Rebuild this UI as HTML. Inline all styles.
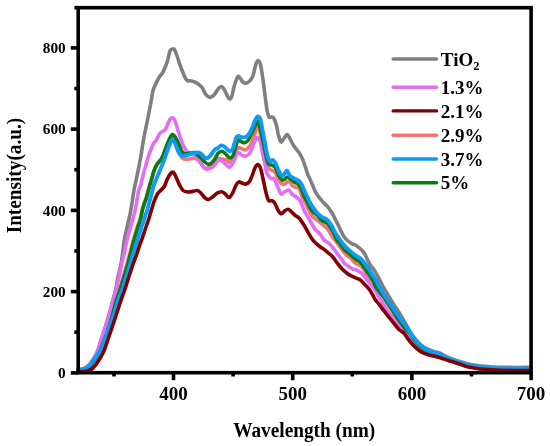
<!DOCTYPE html>
<html><head><meta charset="utf-8"><style>
html,body{margin:0;padding:0;background:#fff;overflow:hidden;}
svg{display:block;}
text{font-family:"Liberation Serif","Times New Roman",serif;font-weight:bold;fill:#000;}
</style></head><body>
<svg width="550" height="446" viewBox="0 0 550 446">
<rect width="550" height="446" fill="#fff"/>
<g fill="none" stroke-width="3.6" stroke-linejoin="round" stroke-linecap="round">
<path d="M78.0 369.6C78.5 369.5 79.9 369.4 81.0 369.1C82.1 368.9 83.6 368.6 84.7 368.1C85.8 367.6 86.7 366.8 87.5 366.2C88.3 365.6 88.8 365.3 89.6 364.3C90.4 363.3 91.6 361.7 92.6 360.2C93.6 358.7 94.6 357.0 95.5 355.3C96.4 353.6 97.0 352.5 98.0 349.9C99.0 347.3 100.1 342.9 101.2 339.5C102.3 336.1 103.2 333.7 104.5 329.5C105.8 325.3 107.7 319.5 109.1 314.5C110.5 309.5 112.0 303.6 113.1 299.5C114.2 295.4 114.8 293.8 115.6 290.0C116.4 286.2 117.1 281.2 118.0 277.0C118.9 272.8 120.0 269.2 120.8 265.0C121.6 260.8 122.2 256.2 122.8 252.0C123.4 247.8 123.6 244.1 124.3 240.0C125.0 235.9 126.1 231.7 127.0 227.5C127.9 223.3 129.0 219.2 129.9 215.0C130.8 210.8 131.5 206.2 132.2 202.0C132.9 197.8 133.2 194.2 134.0 190.0C134.8 185.8 135.8 181.8 136.8 176.8C137.8 171.8 139.1 166.1 140.2 160.0C141.3 153.9 142.6 145.0 143.5 140.0C144.4 135.0 144.7 133.3 145.4 130.0C146.1 126.7 146.8 123.4 147.5 120.0C148.2 116.6 148.8 113.3 149.5 109.8C150.2 106.3 150.9 102.2 151.5 99.1C152.1 96.0 152.2 93.5 152.9 91.0C153.6 88.5 154.6 86.5 155.6 84.2C156.6 82.0 157.8 79.5 159.0 77.5C160.2 75.5 161.7 74.6 163.0 72.1C164.3 69.6 165.8 65.9 167.0 62.4C168.2 58.9 169.0 53.4 169.9 51.2C170.8 49.0 171.8 49.2 172.6 49.0C173.4 48.8 174.0 48.7 174.8 50.1C175.6 51.5 176.8 55.3 177.6 57.5C178.4 59.7 178.8 61.6 179.5 63.5C180.2 65.4 180.8 67.2 181.5 69.0C182.2 70.8 182.8 72.4 183.5 74.0C184.2 75.6 184.8 77.4 185.5 78.5C186.2 79.6 186.7 80.4 187.5 80.8C188.3 81.2 189.1 80.5 190.5 80.8C191.9 81.1 194.4 81.7 196.1 82.6C197.8 83.5 199.5 85.0 200.6 86.0C201.7 87.0 201.9 87.1 202.7 88.4C203.5 89.7 204.2 92.3 205.4 93.8C206.6 95.3 208.4 97.2 209.9 97.4C211.4 97.6 213.0 96.1 214.3 94.7C215.6 93.3 216.7 90.7 217.9 89.3C219.1 87.9 220.3 86.3 221.5 86.6C222.7 86.9 223.9 89.1 225.1 91.1C226.3 93.0 227.6 97.2 228.7 98.3C229.8 99.3 230.5 99.4 231.4 97.4C232.3 95.5 233.1 90.0 234.1 86.6C235.1 83.2 236.6 78.1 237.7 76.8C238.8 75.5 239.5 77.7 240.4 78.6C241.3 79.5 242.0 81.5 243.0 82.2C244.0 82.9 245.4 83.3 246.6 83.0C247.8 82.7 249.1 81.6 250.2 80.4C251.2 79.2 252.2 77.9 252.9 75.9C253.7 74.0 254.1 71.0 254.7 68.7C255.3 66.5 255.9 63.8 256.5 62.4C257.1 61.0 257.7 60.5 258.3 60.6C258.9 60.8 259.5 61.3 260.1 63.3C260.7 65.2 261.3 68.7 261.9 72.3C262.5 75.9 263.1 80.3 263.7 84.8C264.3 89.3 264.9 94.7 265.5 99.2C266.1 103.7 266.7 108.7 267.3 111.7C267.9 114.7 268.4 116.2 269.1 117.1C269.8 118.0 270.9 117.0 271.7 117.1C272.4 117.2 272.8 116.6 273.6 117.9C274.4 119.2 275.6 122.1 276.3 124.7C277.1 127.3 277.4 130.8 278.1 133.7C278.9 136.5 279.9 140.9 280.8 141.8C281.7 142.7 282.5 140.3 283.5 139.1C284.5 137.9 286.0 134.8 287.0 134.6C288.0 134.4 288.8 136.7 289.7 138.2C290.6 139.7 291.3 141.8 292.4 143.6C293.4 145.4 294.8 147.3 296.0 148.9C297.2 150.5 298.4 151.5 299.6 153.4C300.8 155.3 302.1 158.1 303.2 160.6C304.2 163.1 305.1 166.3 305.9 168.7C306.7 171.1 307.2 173.1 308.0 175.0C308.8 176.9 309.8 178.6 310.6 180.4C311.4 182.2 312.1 184.0 312.9 185.8C313.6 187.6 314.3 189.6 315.1 191.2C315.9 192.8 316.8 194.1 317.8 195.6C318.9 197.1 320.3 198.8 321.4 200.1C322.5 201.4 323.6 202.6 324.6 203.7C325.6 204.8 326.2 204.9 327.4 206.4C328.6 207.9 330.5 210.5 331.9 212.7C333.2 214.9 334.3 217.4 335.5 219.8C336.7 222.2 337.8 224.3 339.1 227.0C340.5 229.7 342.3 233.8 343.6 236.0C344.9 238.2 345.4 238.7 346.9 240.0C348.3 241.3 350.9 243.2 352.3 244.0C353.7 244.8 353.6 243.9 355.0 244.7C356.4 245.5 358.8 247.3 360.4 248.8C362.0 250.3 363.3 251.8 364.4 253.5C365.5 255.2 366.2 257.1 367.1 258.9C368.0 260.7 368.7 262.4 369.8 264.2C370.9 266.0 372.5 267.6 373.9 269.6C375.2 271.6 376.9 274.7 377.9 276.4C378.9 278.1 378.7 278.1 379.7 280.0C380.7 281.9 382.3 285.3 383.8 287.9C385.3 290.5 386.9 293.1 388.5 295.7C390.1 298.3 391.6 301.0 393.2 303.6C394.8 306.2 396.9 309.2 398.3 311.4C399.7 313.5 399.6 313.2 401.5 316.5C403.4 319.8 407.6 327.5 410.0 331.4C412.4 335.3 414.0 337.6 416.0 340.0C418.0 342.4 419.8 344.0 422.0 345.6C424.2 347.2 426.8 348.6 429.0 349.7C431.2 350.8 433.6 351.3 435.4 351.9C437.2 352.5 437.9 352.3 440.0 353.2C442.1 354.1 445.3 356.2 448.2 357.5C451.1 358.8 454.3 359.7 457.3 360.7C460.3 361.7 463.4 362.6 466.4 363.4C469.4 364.2 472.6 364.8 475.5 365.3C478.4 365.8 481.2 366.1 484.0 366.4C486.8 366.7 487.7 366.8 492.0 367.0C496.3 367.2 503.7 367.3 510.0 367.4C516.3 367.5 526.5 367.4 529.8 367.4" stroke="#7f7f7f"/>
<path d="M78.0 370.6C78.7 370.5 80.7 370.4 82.0 370.1C83.3 369.8 84.8 369.6 86.0 369.0C87.2 368.4 88.3 367.5 89.3 366.6C90.3 365.7 90.9 365.0 91.8 363.8C92.7 362.6 93.8 360.8 94.7 359.3C95.7 357.8 96.6 356.4 97.5 354.8C98.4 353.2 99.3 351.7 100.2 349.8C101.1 347.9 102.1 345.1 102.7 343.5C103.3 341.9 103.0 342.2 103.8 340.0C104.6 337.8 106.0 334.2 107.3 330.0C108.6 325.8 110.2 320.0 111.7 315.0C113.2 310.0 115.0 304.2 116.2 300.0C117.5 295.8 118.0 293.8 119.2 290.0C120.4 286.2 122.0 281.2 123.2 277.0C124.5 272.8 125.5 269.2 126.7 265.0C127.9 260.8 129.1 256.2 130.2 252.0C131.3 247.8 132.1 244.2 133.3 240.0C134.5 235.8 136.1 230.3 137.2 227.0C138.3 223.7 139.0 222.8 139.8 220.0C140.6 217.2 141.3 212.8 142.0 210.0C142.7 207.2 143.5 204.9 144.1 203.0C144.7 201.1 145.2 200.5 145.8 198.5C146.4 196.5 147.2 193.2 147.8 191.0C148.4 188.8 148.7 187.3 149.5 185.0C150.3 182.7 151.6 179.7 152.5 177.0C153.4 174.3 154.2 171.2 155.0 169.0C155.8 166.8 156.2 165.0 157.0 163.5C157.8 162.0 159.0 161.2 160.0 160.0C161.0 158.8 162.4 157.5 163.2 156.0C164.0 154.5 164.1 153.3 165.0 151.0C165.9 148.7 167.7 144.1 168.6 142.0C169.5 139.9 169.8 139.4 170.5 138.5C171.2 137.6 171.8 136.7 172.5 136.8C173.2 136.9 174.1 137.5 174.8 139.0C175.6 140.5 176.2 143.7 177.0 146.0C177.8 148.3 178.5 150.9 179.5 153.0C180.5 155.1 181.6 157.4 182.8 158.4C184.0 159.4 185.5 159.1 186.8 159.2C188.1 159.3 189.3 158.9 190.7 158.8C192.1 158.7 194.1 158.1 195.4 158.4C196.7 158.7 197.4 159.4 198.5 160.4C199.6 161.4 200.6 163.0 201.7 164.3C202.8 165.6 203.7 167.6 204.8 168.2C205.9 168.8 206.8 168.8 208.1 167.8C209.4 166.8 211.0 163.9 212.6 162.4C214.2 160.9 216.4 159.4 217.9 158.8C219.4 158.2 220.2 158.7 221.5 158.8C222.8 159.0 224.7 159.1 226.0 159.7C227.3 160.3 228.2 162.8 229.6 162.4C230.9 162.0 232.8 159.4 234.1 157.0C235.4 154.6 236.3 149.3 237.7 148.0C239.0 146.7 240.9 148.7 242.2 149.0C243.5 149.3 244.4 150.4 245.7 149.8C247.0 149.2 248.8 147.5 250.2 145.4C251.5 143.3 252.6 140.5 253.8 137.3C255.0 134.2 256.3 127.4 257.4 126.5C258.4 125.6 259.2 128.6 260.1 131.9C261.0 135.2 261.9 141.8 262.8 146.3C263.7 150.8 264.4 155.1 265.5 158.8C266.6 162.5 267.9 166.6 269.1 168.5C270.3 170.4 271.6 169.9 272.6 170.5C273.6 171.1 274.5 171.2 275.3 172.3C276.1 173.4 276.3 175.2 277.2 177.0C278.1 178.8 279.6 181.8 280.8 183.0C282.0 184.2 283.1 184.8 284.3 184.5C285.5 184.2 286.9 181.9 287.9 181.5C288.8 181.1 289.2 181.5 290.0 182.2C290.8 182.9 291.8 185.0 292.7 185.8C293.6 186.6 294.5 186.8 295.4 187.1C296.3 187.4 297.4 187.3 298.1 187.8C298.9 188.3 299.3 189.0 299.9 190.3C300.5 191.6 300.9 193.8 301.7 195.6C302.4 197.4 303.5 199.2 304.4 201.0C305.3 202.8 306.2 204.5 307.1 206.4C308.0 208.3 308.8 210.5 309.7 212.2C310.6 213.9 311.5 215.4 312.5 216.5C313.5 217.6 314.3 217.8 315.7 218.9C317.1 220.1 319.2 221.8 321.1 223.4C323.1 225.1 325.6 226.7 327.4 228.8C329.2 230.9 330.7 234.1 331.9 236.0C333.1 237.9 333.6 238.4 334.8 240.0C336.0 241.6 337.5 243.6 338.8 245.4C340.1 247.2 341.5 249.1 342.9 250.8C344.2 252.5 345.6 254.3 346.9 255.5C348.2 256.7 349.5 257.0 350.9 258.2C352.2 259.4 353.4 261.7 355.0 262.9C356.6 264.1 358.8 264.4 360.4 265.6C362.0 266.8 363.1 268.3 364.4 270.3C365.7 272.3 366.6 275.3 368.0 277.5C369.4 279.7 371.2 281.5 372.5 283.5C373.8 285.5 374.2 287.5 375.8 289.5C377.4 291.5 380.4 293.3 382.3 295.7C384.2 298.1 385.8 301.0 387.5 303.6C389.2 306.2 391.2 309.2 392.7 311.4C394.2 313.6 395.1 315.1 396.3 317.0C397.5 318.9 398.8 320.7 400.1 322.5C401.4 324.3 402.4 326.1 404.0 328.0C405.6 329.9 408.0 331.7 410.0 334.1C412.0 336.6 414.0 340.3 416.0 342.7C418.0 345.1 419.8 346.7 422.0 348.3C424.2 349.9 426.8 351.3 429.0 352.4C431.2 353.4 433.6 354.0 435.4 354.6C437.2 355.2 437.9 355.0 440.0 355.9C442.1 356.8 445.3 358.9 448.2 360.2C451.1 361.4 454.3 362.4 457.3 363.4C460.3 364.4 463.4 365.3 466.4 366.1C469.4 366.9 472.6 367.5 475.5 368.0C478.4 368.5 481.2 368.8 484.0 369.1C486.8 369.4 487.7 369.5 492.0 369.7C496.3 369.9 503.7 370.0 510.0 370.1C516.3 370.2 526.5 370.1 529.8 370.1" stroke="#f67373"/>
<path d="M78.0 369.9C78.5 369.8 79.9 369.6 81.0 369.4C82.1 369.1 83.6 368.9 84.7 368.4C85.8 367.9 86.7 367.1 87.5 366.5C88.3 365.9 88.8 365.6 89.6 364.6C90.4 363.6 91.6 362.0 92.6 360.5C93.6 359.0 94.6 357.3 95.5 355.6C96.4 353.9 97.0 352.8 98.0 350.2C99.0 347.6 100.1 343.4 101.2 340.0C102.3 336.6 103.2 334.2 104.5 330.0C105.8 325.8 107.9 320.0 109.3 315.0C110.7 310.0 111.7 304.2 112.8 300.0C113.9 295.8 114.9 293.8 115.9 290.0C116.9 286.2 118.1 281.2 119.0 277.0C119.9 272.8 120.6 269.2 121.5 265.0C122.4 260.8 123.6 256.2 124.5 252.0C125.4 247.8 126.0 244.2 127.0 240.0C128.0 235.8 129.3 231.2 130.5 227.0C131.7 222.8 133.0 219.0 134.0 215.0C135.0 211.0 135.7 207.2 136.5 203.0C137.3 198.8 138.1 193.0 138.8 190.0C139.5 187.0 140.2 187.2 140.8 185.0C141.5 182.8 141.5 181.3 142.7 176.8C143.9 172.3 146.5 162.6 147.8 158.2C149.1 153.8 149.7 152.7 150.6 150.3C151.5 147.9 152.5 145.3 153.4 143.6C154.3 141.9 155.2 142.0 156.2 140.3C157.2 138.6 158.5 135.0 159.6 133.5C160.7 132.0 161.9 132.1 162.9 131.3C163.9 130.6 164.8 130.3 165.7 129.0C166.5 127.7 167.2 125.1 168.0 123.4C168.8 121.7 169.4 119.9 170.2 119.0C170.9 118.1 171.8 117.6 172.5 117.8C173.2 118.0 174.0 118.6 174.7 120.1C175.4 121.6 176.1 124.2 176.9 126.8C177.7 129.4 178.8 133.0 179.7 135.8C180.6 138.6 181.6 141.5 182.5 143.6C183.4 145.7 184.2 147.2 185.0 148.6C185.8 150.0 186.4 151.0 187.4 151.8C188.4 152.6 189.7 152.7 191.0 153.4C192.3 154.1 194.2 155.1 195.4 156.1C196.7 157.1 197.4 158.2 198.5 159.6C199.6 161.0 200.6 163.1 201.7 164.6C202.8 166.1 203.8 167.7 204.8 168.4C205.9 169.1 206.8 169.2 208.0 169.0C209.2 168.8 210.7 168.2 211.9 167.4C213.1 166.7 214.0 165.6 215.0 164.5C216.0 163.4 216.8 161.2 217.9 160.6C219.0 159.9 220.3 160.1 221.5 160.6C222.7 161.1 223.8 162.5 225.1 163.6C226.4 164.7 228.1 167.7 229.6 167.2C231.1 166.7 232.8 163.0 234.1 160.6C235.4 158.2 236.2 153.5 237.4 152.5C238.6 151.5 239.9 154.2 241.3 154.8C242.7 155.4 244.2 156.5 245.7 156.1C247.2 155.7 248.8 154.6 250.2 152.5C251.5 150.4 252.6 146.1 253.8 143.6C255.0 141.1 256.3 137.8 257.4 137.3C258.4 136.9 259.4 138.8 260.1 140.9C260.9 143.0 261.1 146.2 261.9 149.8C262.6 153.4 263.7 158.4 264.6 162.4C265.5 166.4 266.2 171.4 267.3 174.0C268.4 176.6 269.8 177.4 270.9 178.2C272.0 179.0 273.0 177.7 274.1 179.0C275.2 180.3 276.2 183.4 277.4 185.9C278.5 188.4 279.8 192.9 281.0 193.9C282.2 194.9 283.4 192.5 284.6 191.8C285.8 191.2 287.3 190.1 288.2 190.0C289.1 189.9 289.2 190.4 290.0 191.2C290.8 192.0 291.6 193.7 292.7 194.7C293.8 195.7 295.2 196.2 296.3 197.0C297.4 197.8 298.2 198.4 299.0 199.2C299.8 200.0 300.2 200.7 300.8 201.9C301.4 203.1 301.9 204.8 302.6 206.4C303.3 208.1 303.7 209.6 304.8 211.8C305.9 214.0 307.8 217.0 309.5 219.8C311.2 222.6 313.0 226.4 314.8 228.8C316.6 231.2 318.7 232.3 320.2 234.2C321.7 236.1 322.7 238.6 324.0 240.0C325.3 241.4 326.8 241.6 328.1 242.7C329.5 243.8 330.8 245.1 332.1 246.7C333.4 248.3 334.8 250.3 336.1 252.1C337.5 253.9 338.9 255.7 340.2 257.5C341.5 259.3 342.8 261.4 344.2 262.9C345.6 264.3 346.9 265.2 348.3 266.2C349.7 267.2 351.2 268.3 352.3 268.9C353.4 269.5 353.6 269.0 355.0 269.6C356.4 270.2 358.8 271.2 360.4 272.3C362.0 273.4 363.0 274.8 364.4 276.4C365.8 278.0 367.2 280.2 368.5 281.8C369.8 283.4 371.0 284.7 372.0 286.0C373.0 287.3 373.7 288.0 374.7 289.5C375.7 291.0 376.9 293.3 377.9 295.0C378.9 296.7 379.9 298.5 380.8 299.9C381.7 301.3 381.9 301.7 383.0 303.5C384.1 305.3 385.8 308.2 387.5 310.7C389.2 313.2 391.5 316.0 393.5 318.6C395.5 321.2 398.0 324.6 399.5 326.4C401.0 328.2 400.8 327.3 402.5 329.5C404.2 331.7 407.8 336.7 410.0 339.5C412.2 342.3 414.0 344.3 416.0 346.1C418.0 347.9 419.8 349.2 422.0 350.4C424.2 351.6 426.8 352.6 429.0 353.3C431.2 354.0 433.6 354.4 435.4 354.8C437.2 355.2 437.9 355.4 440.0 356.0C442.1 356.6 445.3 357.8 448.2 358.7C451.1 359.6 454.3 360.4 457.3 361.4C460.3 362.4 463.4 363.8 466.4 364.7C469.4 365.6 472.6 366.0 475.5 366.5C478.4 367.0 481.2 367.2 484.0 367.5C486.8 367.8 487.7 367.8 492.0 368.0C496.3 368.2 503.7 368.5 510.0 368.6C516.3 368.7 526.5 368.8 529.8 368.8" stroke="#e56cf7"/>
<path d="M78.0 370.6C78.7 370.5 80.7 370.4 82.0 370.2C83.3 370.0 84.8 369.8 86.0 369.2C87.2 368.6 88.5 367.7 89.5 366.8C90.5 365.9 91.1 365.2 92.0 364.0C92.9 362.8 94.0 361.0 95.0 359.5C96.0 358.0 96.9 356.6 97.8 355.0C98.7 353.4 99.6 351.9 100.5 350.0C101.4 348.1 102.3 345.2 103.0 343.5C103.7 341.8 103.7 342.2 104.5 340.0C105.3 337.8 106.7 334.2 108.0 330.0C109.3 325.8 111.1 320.0 112.5 315.0C113.9 310.0 115.2 304.2 116.5 300.0C117.8 295.8 118.8 293.8 120.0 290.0C121.2 286.2 122.8 281.2 124.0 277.0C125.2 272.8 126.3 269.2 127.5 265.0C128.7 260.8 129.9 256.2 131.0 252.0C132.1 247.8 132.9 244.2 134.1 240.0C135.3 235.8 137.0 230.3 138.0 227.0C139.0 223.7 139.6 222.8 140.3 220.0C141.1 217.2 141.8 212.8 142.5 210.0C143.2 207.2 144.0 204.9 144.6 203.0C145.2 201.1 145.7 200.5 146.3 198.5C146.9 196.5 147.7 193.2 148.3 191.0C148.9 188.8 149.4 187.2 150.0 185.0C150.6 182.8 151.4 179.6 152.0 177.5C152.6 175.4 152.8 174.1 153.3 172.4C153.9 170.7 154.7 168.8 155.3 167.5C155.9 166.2 156.2 165.7 156.9 164.7C157.6 163.7 158.8 162.4 159.5 161.5C160.2 160.6 160.8 160.4 161.4 159.3C162.0 158.2 162.6 156.6 163.2 155.0C163.8 153.4 164.1 152.2 165.0 149.8C165.9 147.5 167.7 143.0 168.6 140.9C169.5 138.8 169.9 138.1 170.5 137.0C171.1 135.9 171.5 134.7 172.2 134.6C172.9 134.5 173.9 135.3 174.8 136.4C175.7 137.5 176.6 139.3 177.4 141.0C178.2 142.7 178.9 144.5 179.7 146.3C180.5 148.1 181.2 150.6 182.1 151.8C183.0 153.0 184.0 153.4 185.2 153.7C186.4 153.9 187.5 153.5 189.1 153.3C190.7 153.1 193.2 152.2 194.6 152.5C196.0 152.8 196.6 154.4 197.7 155.3C198.8 156.2 199.7 156.9 200.9 158.0C202.1 159.1 203.5 160.9 204.8 162.0C206.1 163.1 207.5 164.2 208.7 164.3C209.9 164.4 210.8 163.6 211.9 162.7C213.0 161.8 214.0 160.4 215.0 158.8C216.0 157.2 216.8 154.7 217.9 153.4C219.0 152.2 220.3 151.3 221.5 151.3C222.7 151.3 223.8 152.3 225.1 153.4C226.4 154.5 228.2 157.6 229.6 157.9C230.9 158.2 231.8 158.0 233.2 155.2C234.5 152.4 236.3 143.1 237.7 140.9C239.0 138.7 240.1 141.5 241.3 141.8C242.5 142.1 243.6 143.0 244.8 142.7C246.0 142.4 247.2 141.7 248.4 140.0C249.6 138.3 250.8 135.4 252.0 132.8C253.2 130.2 254.6 126.7 255.6 124.7C256.6 122.8 257.1 120.5 257.8 121.1C258.6 121.7 259.3 125.0 260.1 128.3C260.9 131.6 261.9 136.7 262.8 140.9C263.7 145.1 264.6 149.6 265.5 153.4C266.4 157.2 267.2 161.6 268.2 163.5C269.2 165.4 270.5 164.3 271.7 165.0C272.9 165.7 274.1 165.7 275.3 167.5C276.5 169.3 277.8 173.9 279.0 176.0C280.2 178.1 281.3 180.1 282.6 180.3C283.9 180.5 285.8 177.6 287.0 177.3C288.2 177.0 288.8 177.8 290.0 178.6C291.2 179.4 293.1 181.3 294.5 182.2C295.9 183.1 297.1 183.1 298.1 184.0C299.2 184.9 299.9 185.8 300.8 187.6C301.7 189.4 302.6 192.6 303.5 194.7C304.4 196.8 305.3 198.3 306.2 200.1C307.1 201.9 307.9 203.6 308.9 205.5C309.9 207.4 311.0 209.7 312.4 211.3C313.8 213.0 315.9 213.8 317.5 215.4C319.1 217.0 320.4 219.4 322.0 220.7C323.6 222.0 325.8 221.9 327.4 223.4C329.0 224.9 330.5 227.4 331.9 229.7C333.2 231.9 334.7 235.2 335.5 236.9C336.3 238.6 336.0 238.8 336.8 240.0C337.6 241.2 339.0 242.4 340.2 244.0C341.4 245.6 342.8 247.9 344.2 249.4C345.6 250.9 346.5 251.2 348.3 252.8C350.1 254.4 353.0 257.2 355.0 258.8C357.0 260.4 358.8 260.7 360.4 262.2C362.0 263.7 363.0 265.7 364.4 267.6C365.8 269.5 367.0 271.5 368.5 273.7C370.0 275.9 371.9 278.6 373.2 281.0C374.5 283.4 374.7 285.4 376.3 287.9C377.9 290.3 380.9 293.1 382.8 295.7C384.8 298.3 386.3 301.0 388.0 303.6C389.7 306.2 391.7 309.2 393.2 311.4C394.7 313.6 395.6 315.1 396.8 317.0C398.0 318.9 399.3 320.7 400.6 322.5C401.9 324.3 402.9 325.9 404.5 327.8C406.1 329.7 408.1 331.3 410.0 333.7C411.9 336.1 414.0 339.9 416.0 342.3C418.0 344.7 419.8 346.3 422.0 347.9C424.2 349.5 426.8 350.9 429.0 352.0C431.2 353.1 433.6 353.6 435.4 354.2C437.2 354.8 437.9 354.6 440.0 355.5C442.1 356.4 445.3 358.6 448.2 359.8C451.1 361.1 454.3 362.0 457.3 363.0C460.3 364.0 463.4 364.9 466.4 365.7C469.4 366.5 472.6 367.1 475.5 367.6C478.4 368.1 481.2 368.4 484.0 368.7C486.8 369.0 487.7 369.1 492.0 369.3C496.3 369.5 503.7 369.6 510.0 369.7C516.3 369.8 526.5 369.7 529.8 369.7" stroke="#0a7c14"/>
<path d="M78.0 370.2C78.5 370.1 79.9 370.0 81.0 369.8C82.1 369.6 83.6 369.4 84.7 368.9C85.8 368.4 86.9 367.7 87.8 367.0C88.7 366.3 89.3 365.9 90.2 364.8C91.1 363.7 92.3 362.0 93.4 360.5C94.5 359.0 95.7 357.3 96.8 355.6C97.9 353.9 99.3 351.7 100.3 350.2C101.3 348.7 101.9 348.3 102.6 346.6C103.3 344.9 103.7 342.8 104.6 340.0C105.5 337.2 106.7 334.2 108.2 330.0C109.7 325.8 112.0 320.0 113.7 315.0C115.4 310.0 116.9 304.2 118.3 300.0C119.7 295.8 121.0 293.8 122.3 290.0C123.6 286.2 125.0 281.2 126.3 277.0C127.6 272.8 128.8 269.2 130.0 265.0C131.2 260.8 132.6 256.2 133.8 252.0C135.0 247.8 136.1 244.2 137.4 240.0C138.7 235.8 140.5 230.1 141.5 227.0C142.5 223.9 142.7 223.8 143.4 221.7C144.1 219.6 145.1 216.1 145.6 214.5C146.1 212.9 146.2 213.6 146.7 212.0C147.2 210.4 147.9 207.2 148.5 205.0C149.1 202.8 149.7 200.8 150.3 198.5C150.9 196.2 151.7 193.2 152.3 191.0C152.9 188.8 152.8 188.0 153.9 185.0C155.0 182.0 157.1 177.0 158.7 173.2C160.2 169.4 161.7 166.3 163.2 162.4C164.7 158.5 166.5 153.0 167.7 149.8C168.9 146.6 169.6 144.6 170.3 143.0C171.1 141.4 171.4 140.1 172.2 140.0C172.9 139.9 173.9 141.1 174.8 142.7C175.7 144.3 176.6 147.5 177.4 149.4C178.2 151.3 178.9 153.0 179.7 154.1C180.5 155.2 181.2 155.8 182.1 156.1C183.0 156.4 184.0 156.0 185.2 155.7C186.4 155.4 187.8 154.9 189.1 154.5C190.4 154.1 191.6 153.6 193.0 153.3C194.4 153.0 196.4 152.4 197.7 152.5C199.0 152.6 199.8 153.0 200.9 153.7C202.0 154.4 203.1 156.1 204.0 156.9C204.9 157.7 205.5 158.5 206.4 158.4C207.3 158.3 208.5 157.5 209.5 156.5C210.5 155.5 211.7 153.7 212.6 152.5C213.5 151.3 214.1 150.2 215.0 149.4C215.9 148.7 216.8 148.7 217.9 148.0C219.0 147.3 220.3 145.5 221.5 145.4C222.7 145.3 223.9 146.3 225.1 147.2C226.3 148.1 227.5 150.3 228.7 150.7C229.9 151.1 231.1 151.9 232.3 149.8C233.5 147.7 234.9 140.5 235.9 138.2C236.9 135.9 237.7 136.1 238.6 135.9C239.5 135.8 240.3 137.1 241.3 137.3C242.3 137.5 243.6 137.8 244.8 137.3C246.0 136.9 247.2 136.1 248.4 134.6C249.6 133.1 250.9 130.6 252.0 128.3C253.1 126.1 253.8 123.0 254.7 121.1C255.6 119.2 256.5 117.1 257.4 116.7C258.3 116.3 259.4 116.9 260.1 118.5C260.9 120.1 261.1 122.8 261.9 126.5C262.6 130.2 263.7 136.1 264.6 140.9C265.5 145.7 266.4 151.8 267.3 155.2C268.2 158.6 269.1 160.7 270.0 161.5C270.9 162.3 271.8 159.8 272.7 160.0C273.6 160.2 274.5 161.4 275.4 163.0C276.3 164.6 277.1 167.5 278.1 169.6C279.2 171.7 280.7 175.1 281.7 175.8C282.7 176.6 283.4 175.0 284.3 174.1C285.2 173.2 286.1 170.2 287.0 170.5C287.9 170.8 288.6 174.5 290.0 175.9C291.4 177.3 293.8 178.0 295.4 179.0C297.0 180.0 298.7 180.4 299.9 181.7C301.1 183.0 301.7 184.8 302.6 186.7C303.5 188.6 304.4 191.1 305.3 193.0C306.2 194.9 307.1 196.5 308.0 198.3C308.9 200.1 309.6 201.9 310.6 203.7C311.6 205.5 313.0 207.4 314.2 209.1C315.4 210.8 316.5 212.2 317.8 213.6C319.1 214.9 320.4 216.2 322.0 217.2C323.6 218.2 325.8 218.3 327.4 219.8C329.0 221.3 330.5 223.8 331.9 226.1C333.2 228.3 334.1 231.0 335.5 233.3C336.9 235.6 338.8 238.0 340.2 240.0C341.6 242.0 342.8 243.8 344.2 245.4C345.6 247.0 346.5 247.8 348.3 249.4C350.1 251.0 353.0 253.5 355.0 255.0C357.0 256.5 358.8 256.9 360.4 258.2C362.0 259.5 363.0 261.2 364.4 262.9C365.8 264.6 367.1 266.3 368.5 268.3C369.9 270.3 371.2 272.9 372.5 275.0C373.8 277.1 375.1 278.7 376.3 280.8C377.5 282.9 378.5 285.4 379.9 287.9C381.3 290.4 382.9 293.1 384.6 295.7C386.3 298.3 388.2 301.0 390.0 303.6C391.8 306.2 393.8 309.4 395.2 311.4C396.6 313.4 397.2 314.0 398.3 315.5C399.4 317.0 400.3 318.7 401.6 320.5C402.9 322.3 404.5 323.8 406.1 326.1C407.7 328.4 409.4 331.7 411.1 334.2C412.8 336.7 414.4 339.2 416.2 341.3C418.0 343.4 420.0 345.2 422.2 346.8C424.4 348.4 427.1 349.9 429.3 350.9C431.5 351.9 433.6 352.3 435.4 352.9C437.2 353.4 437.9 353.3 440.0 354.2C442.1 355.1 445.3 357.2 448.2 358.5C451.1 359.8 454.3 360.7 457.3 361.7C460.3 362.7 463.4 363.6 466.4 364.4C469.4 365.2 472.6 365.8 475.5 366.3C478.4 366.8 481.2 367.1 484.0 367.4C486.8 367.7 487.7 367.8 492.0 368.0C496.3 368.2 503.7 368.3 510.0 368.4C516.3 368.5 526.5 368.4 529.8 368.4" stroke="#0f9af5" stroke-width="3.9"/>
<path d="M78.0 371.6C78.7 371.6 80.7 371.7 82.0 371.6C83.3 371.6 84.8 371.5 86.0 371.3C87.2 371.1 88.1 370.9 89.0 370.5C89.9 370.1 90.8 369.7 91.5 369.2C92.2 368.7 92.8 368.3 93.5 367.5C94.2 366.7 95.2 365.6 96.0 364.6C96.8 363.6 97.2 362.9 98.1 361.4C99.0 359.9 100.5 357.6 101.6 355.6C102.7 353.6 103.5 352.2 104.5 349.6C105.5 347.0 106.7 343.3 107.8 340.0C108.9 336.7 109.8 334.2 111.2 330.0C112.6 325.8 114.6 320.0 116.2 315.0C117.8 310.0 119.7 304.2 121.1 300.0C122.5 295.8 123.4 293.8 124.7 290.0C126.0 286.2 127.5 281.2 128.8 277.0C130.2 272.8 131.4 269.2 132.8 265.0C134.2 260.8 136.4 255.2 137.5 252.0C138.6 248.8 138.7 248.0 139.4 246.0C140.1 244.0 140.8 242.1 141.6 240.0C142.3 237.9 143.2 235.6 143.9 233.4C144.6 231.2 145.3 228.9 146.0 227.0C146.7 225.1 147.3 223.4 147.9 221.7C148.5 219.9 149.0 218.2 149.5 216.5C150.0 214.8 150.4 213.4 151.0 211.5C151.6 209.6 152.3 207.0 153.0 204.8C153.7 202.6 154.5 200.4 155.3 198.5C156.1 196.6 156.9 194.6 158.0 193.1C159.1 191.6 160.5 190.7 161.6 189.5C162.7 188.3 163.7 187.6 164.6 186.0C165.5 184.4 166.0 181.8 167.0 179.7C168.0 177.6 169.5 174.8 170.6 173.5C171.7 172.2 172.4 171.6 173.3 172.2C174.2 172.8 174.9 174.8 176.0 177.0C177.1 179.2 178.4 182.8 179.6 185.1C180.8 187.3 181.8 189.4 183.2 190.5C184.5 191.6 186.1 191.8 187.7 191.9C189.3 192.1 191.4 191.6 193.0 191.4C194.6 191.2 196.2 190.2 197.5 190.5C198.8 190.8 199.9 192.0 201.1 193.2C202.3 194.4 203.5 196.6 204.7 197.7C205.9 198.8 207.0 199.7 208.3 199.5C209.7 199.3 211.3 197.9 212.8 196.8C214.3 195.8 215.8 194.0 217.3 193.2C218.8 192.4 220.4 191.7 221.7 191.8C223.0 191.9 224.1 193.1 225.3 194.0C226.5 194.9 227.8 197.7 229.0 197.5C230.2 197.3 231.4 195.1 232.6 193.0C233.8 190.9 235.1 186.8 236.1 185.0C237.1 183.2 237.8 182.2 238.8 181.9C239.9 181.6 241.2 182.8 242.4 183.2C243.6 183.6 244.8 184.4 246.0 184.1C247.2 183.8 248.5 182.9 249.6 181.4C250.7 179.9 251.4 177.3 252.3 175.1C253.2 172.8 254.1 169.7 255.0 167.9C255.9 166.1 256.7 164.5 257.6 164.5C258.5 164.5 259.5 165.5 260.4 167.9C261.3 170.3 262.1 174.8 263.0 178.7C263.9 182.6 264.8 187.7 265.7 191.3C266.6 194.9 267.3 198.6 268.4 200.2C269.4 201.8 270.9 200.4 272.0 200.8C273.1 201.2 273.8 201.6 274.7 202.9C275.6 204.2 276.3 207.0 277.4 208.8C278.4 210.6 279.8 213.3 281.0 213.7C282.2 214.1 283.4 211.8 284.6 211.0C285.8 210.2 287.0 209.0 288.2 209.2C289.4 209.4 290.5 211.1 291.7 212.2C292.9 213.2 294.1 214.5 295.3 215.5C296.6 216.5 297.7 216.6 299.2 218.2C300.7 219.8 302.5 222.7 304.1 225.2C305.7 227.7 307.0 230.6 308.6 233.3C310.2 236.0 312.1 239.2 314.0 241.4C315.9 243.6 318.3 245.4 320.0 246.7C321.7 248.0 322.6 248.4 324.0 249.4C325.4 250.4 326.8 251.7 328.1 252.8C329.5 253.9 330.8 254.7 332.1 256.1C333.4 257.6 334.8 259.7 336.1 261.5C337.5 263.3 338.9 265.3 340.2 266.9C341.5 268.5 342.8 269.7 344.2 270.9C345.6 272.1 346.9 273.4 348.3 274.3C349.7 275.2 351.2 275.7 352.3 276.3C353.4 276.9 353.7 277.1 355.0 277.7C356.3 278.3 358.6 278.8 360.0 279.7C361.4 280.6 362.3 282.0 363.4 283.1C364.5 284.2 365.6 285.2 366.7 286.4C367.8 287.6 369.1 289.0 370.1 290.5C371.1 292.0 371.9 293.6 372.8 295.2C373.7 296.8 374.5 298.4 375.5 299.9C376.5 301.3 377.4 302.1 378.8 303.9C380.2 305.7 381.9 308.2 383.8 310.7C385.7 313.1 388.0 316.0 390.1 318.6C392.2 321.2 394.8 324.5 396.4 326.4C398.0 328.3 398.2 328.9 399.5 330.0C400.8 331.1 402.4 331.5 404.0 333.2C405.6 334.9 407.2 337.9 409.1 340.3C411.0 342.7 413.2 345.4 415.2 347.3C417.2 349.2 419.0 350.6 421.2 351.9C423.4 353.2 425.9 354.1 428.3 354.9C430.7 355.7 433.4 356.1 435.4 356.6C437.3 357.1 437.9 357.2 440.0 357.8C442.1 358.4 445.3 359.6 448.2 360.5C451.1 361.4 454.3 362.2 457.3 363.2C460.3 364.2 463.4 365.6 466.4 366.5C469.4 367.4 472.4 367.8 475.5 368.3C478.6 368.8 480.8 369.1 485.0 369.4C489.2 369.7 495.1 370.0 500.5 370.2C505.9 370.4 512.8 370.5 517.7 370.6C522.6 370.7 527.8 370.6 529.8 370.6" stroke="#840103"/>
</g>
<g stroke="#000" stroke-width="3.6" fill="none">
<rect x="78.2" y="7.7" width="452.9" height="365.0"/>
<line x1="74.4" y1="7.7" x2="78.2" y2="7.7"/>
<line x1="173.5" y1="372.7" x2="173.5" y2="380.2"/>
<line x1="292.7" y1="372.7" x2="292.7" y2="380.2"/>
<line x1="411.9" y1="372.7" x2="411.9" y2="380.2"/>
<line x1="531.1" y1="372.7" x2="531.1" y2="380.2"/>
<line x1="114.0" y1="372.7" x2="114.0" y2="376.5"/>
<line x1="233.1" y1="372.7" x2="233.1" y2="376.5"/>
<line x1="352.3" y1="372.7" x2="352.3" y2="376.5"/>
<line x1="471.5" y1="372.7" x2="471.5" y2="376.5"/>
<line x1="70.8" y1="372.9" x2="78.2" y2="372.9"/>
<line x1="70.8" y1="291.6" x2="78.2" y2="291.6"/>
<line x1="70.8" y1="210.4" x2="78.2" y2="210.4"/>
<line x1="70.8" y1="129.1" x2="78.2" y2="129.1"/>
<line x1="70.8" y1="47.9" x2="78.2" y2="47.9"/>
<line x1="74.3" y1="332.2" x2="78.2" y2="332.2"/>
<line x1="74.3" y1="251.0" x2="78.2" y2="251.0"/>
<line x1="74.3" y1="169.7" x2="78.2" y2="169.7"/>
<line x1="74.3" y1="88.5" x2="78.2" y2="88.5"/>
</g>
<g font-size="15.3" text-anchor="end">
<text x="65.7" y="378.2">0</text>
<text x="65.7" y="296.9">200</text>
<text x="65.7" y="215.7">400</text>
<text x="65.7" y="134.4">600</text>
<text x="65.7" y="53.2">800</text>
</g>
<g font-size="19" text-anchor="middle">
<text x="173.5" y="400">400</text>
<text x="292.7" y="400">500</text>
<text x="411.9" y="400">600</text>
<text x="531.1" y="400">700</text>
</g>
<g stroke-width="3.4" stroke-linecap="round">
<line x1="393.2" y1="59.0" x2="436.6" y2="59.0" stroke="#7f7f7f"/>
<text x="440.8" y="65.6" font-size="19">TiO<tspan font-size="12.5" dy="4.5">2</tspan></text>
<line x1="393.2" y1="87.2" x2="436.6" y2="87.2" stroke="#e56cf7"/>
<text x="440.8" y="93.8" font-size="19">1.3%</text>
<line x1="393.2" y1="110.9" x2="436.6" y2="110.9" stroke="#7b0000"/>
<text x="440.8" y="117.5" font-size="19">2.1%</text>
<line x1="393.2" y1="135.2" x2="436.6" y2="135.2" stroke="#f67373"/>
<text x="440.8" y="141.8" font-size="19">2.9%</text>
<line x1="393.2" y1="159.0" x2="436.6" y2="159.0" stroke="#0f9af5"/>
<text x="440.8" y="165.6" font-size="19">3.7%</text>
<line x1="393.2" y1="182.8" x2="436.6" y2="182.8" stroke="#0a7c14"/>
<text x="440.8" y="189.4" font-size="19">5%</text>
</g>
<g font-size="19">
</g>
<text transform="translate(304.2 436.7) scale(0.942 1)" font-size="20.5" text-anchor="middle">Wavelength (nm)</text>
<text transform="translate(21.1 175.6) rotate(-90) scale(0.939 1)" font-size="20.5" text-anchor="middle">Intensity(a.u.)</text>
</svg>
</body></html>
